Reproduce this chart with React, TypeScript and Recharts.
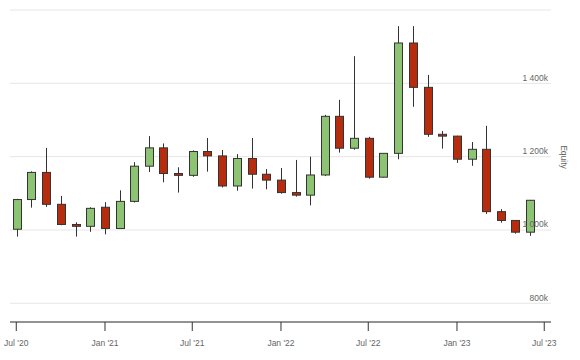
import React from 'react';
import { ComposedChart, Bar, XAxis, YAxis, CartesianGrid } from 'recharts';

// Monthly equity candles, values in thousands
const months = [
  '2020-07', '2020-08', '2020-09', '2020-10', '2020-11', '2020-12',
  '2021-01', '2021-02', '2021-03', '2021-04', '2021-05', '2021-06',
  '2021-07', '2021-08', '2021-09', '2021-10', '2021-11', '2021-12',
  '2022-01', '2022-02', '2022-03', '2022-04', '2022-05', '2022-06',
  '2022-07', '2022-08', '2022-09', '2022-10', '2022-11', '2022-12',
  '2023-01', '2023-02', '2023-03', '2023-04', '2023-05', '2023-06',
];
const openK = [
  1002, 1083, 1157, 1070, 1015, 1010,
  1062, 1004, 1078, 1174, 1224, 1154,
  1149, 1214, 1202, 1120, 1195, 1152,
  1136, 1102, 1095, 1150, 1310, 1223,
  1250, 1144, 1209, 1510, 1389, 1261,
  1256, 1193, 1220, 1050, 1026, 994,
];
const highK = [
  1085, 1160, 1224, 1093, 1021, 1062,
  1076, 1108, 1185, 1256, 1236, 1171,
  1217, 1251, 1218, 1207, 1251, 1166,
  1169, 1191, 1200, 1314, 1355, 1474,
  1254, 1209, 1556, 1556, 1423, 1270,
  1257, 1240, 1284, 1057, 1027, 1082,
];
const lowK = [
  982, 1061, 1063, 1013, 982, 995,
  988, 1003, 1075, 1158, 1130, 1102,
  1145, 1159, 1116, 1107, 1113, 1111,
  1099, 1091, 1067, 1147, 1211, 1219,
  1140, 1143, 1193, 1336, 1254, 1222,
  1183, 1175, 1044, 1020, 990, 984,
];
const closeK = [
  1083, 1157, 1070, 1015, 1010, 1059,
  1004, 1078, 1174, 1224, 1154, 1149,
  1214, 1202, 1120, 1195, 1152, 1136,
  1102, 1095, 1150, 1310, 1223, 1250,
  1144, 1209, 1510, 1389, 1261, 1256,
  1193, 1220, 1050, 1026, 994, 1081,
];

const xTickDates = ['2020-07', '2021-01', '2021-07', '2022-01', '2022-07', '2023-01', '2023-07'];
const xTickLabels = ["Jul '20", "Jan '21", "Jul '21", "Jan '22", "Jul '22", "Jan '23", "Jul '23"];
const yTicks = [800, 1000, 1200, 1400, 1600];
const yTickLabels = ['800k', '1 000k', '1 200k', '1 400k', ''];

const DAY = 86400000;
const toMs = (ym: string) => {
  const [y, m] = ym.split('-').map(Number);
  return Date.UTC(y, m - 1, 1);
};

const data = months.map((m, i) => ({
  t: toMs(m),
  open: openK[i],
  high: highK[i],
  low: lowK[i],
  close: closeK[i],
  range: [lowK[i], highK[i]],
}));

const xTicks = xTickDates.map(toMs);
const xDomain = [xTicks[0] - 13 * DAY, xTicks[xTicks.length - 1] + 14 * DAY];

const UP = '#8dc474';
const DOWN = '#b82c0e';
const EDGE = '#333333';
const FONT = '"Liberation Sans", Arial, sans-serif';

const Candle = (props: any) => {
  const { x, y, width, height, payload } = props;
  if (x == null || y == null) return null;
  const top = Math.min(y, y + height);
  const bottom = Math.max(y, y + height);
  const { open, high, low, close } = payload;
  const span = high - low || 1;
  const py = (v: number) => top + ((high - v) / span) * (bottom - top);
  const cx = Math.round(x + width / 2) + 0.5;
  const bodyTop = py(Math.max(open, close));
  const bodyBot = py(Math.min(open, close));
  const up = close >= open;
  return (
    <g>
      <line x1={cx} x2={cx} y1={top} y2={bottom} stroke={EDGE} strokeWidth={1} />
      <rect
        x={cx - 4}
        y={bodyTop}
        width={8}
        height={Math.max(bodyBot - bodyTop, 1.5)}
        fill={up ? UP : DOWN}
        stroke={EDGE}
        strokeWidth={1}
      />
    </g>
  );
};

const XTick = (props: any) => {
  const { x, y, payload } = props;
  const i = xTicks.indexOf(payload.value);
  return (
    <text x={x} y={y} dy={13} textAnchor="middle" fill="#666" fontSize={8.5} fontFamily={FONT}>
      {i >= 0 ? xTickLabels[i] : ''}
    </text>
  );
};

const YTick = (props: any) => {
  const { x, y, payload } = props;
  const i = yTicks.indexOf(payload.value);
  return (
    <text x={x - 3} y={y - 2.5} textAnchor="end" fill="#666" fontSize={8.5} fontFamily={FONT}>
      {i >= 0 ? yTickLabels[i] : ''}
    </text>
  );
};

const AxisTitle = (props: any) => {
  const { viewBox } = props;
  const cx = viewBox.x + 10;
  const cy = viewBox.y + viewBox.height / 2 - 9;
  return (
    <text
      x={cx}
      y={cy}
      transform={`rotate(90, ${cx}, ${cy})`}
      textAnchor="middle"
      fill="#666"
      fontSize={8.5}
      fontFamily={FONT}
    >
      Equity
    </text>
  );
};

export default function App() {
  return (
    <div style={{ position: 'absolute', left: 0, top: 0, background: '#fff' }}>
      <ComposedChart
        width={580}
        height={360}
        data={data}
        margin={{ top: 10, right: 0, bottom: 0, left: 10 }}
      >
        <CartesianGrid horizontal vertical={false} stroke="#e6e6e6" strokeWidth={1} />
        <XAxis
          dataKey="t"
          type="number"
          domain={xDomain}
          ticks={xTicks}
          allowDataOverflow
          height={38}
          tickSize={9}
          tickMargin={2}
          axisLine={{ stroke: EDGE }}
          tickLine={{ stroke: EDGE }}
          tick={<XTick />}
          interval={0}
        />
        <YAxis
          orientation="right"
          domain={[749, 1600]}
          ticks={yTicks}
          allowDataOverflow
          width={29}
          axisLine={false}
          tickLine={false}
          tickSize={0}
          tickMargin={0}
          tick={<YTick />}
          interval={0}
          label={<AxisTitle />}
        />
        <Bar dataKey="range" barSize={8} shape={<Candle />} isAnimationActive={false} />
      </ComposedChart>
    </div>
  );
}
